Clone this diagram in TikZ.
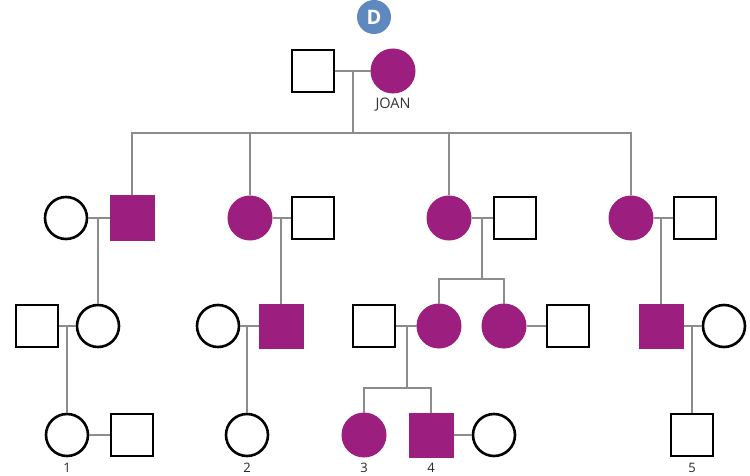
\documentclass[tikz,border=0pt]{standalone}
\usepackage{fontspec}
\setmainfont{Open Sans}
\definecolor{aff}{HTML}{9C1F7F}
\definecolor{badge}{HTML}{5E88BF}
\definecolor{lineg}{HTML}{8C8C8C}
\begin{document}
\begin{tikzpicture}[x=1pt,y=-1pt,
  male/.style={rectangle,draw=black,line width=2.6pt,fill=white,minimum size=42pt,inner sep=0pt},
  female/.style={circle,draw=black,line width=2.6pt,fill=white,minimum size=42pt,inner sep=0pt},
  affm/.style={rectangle,draw=aff,fill=aff,line width=1pt,minimum size=44pt,inner sep=0pt},
  afff/.style={circle,draw=aff,fill=aff,line width=1pt,minimum size=44pt,inner sep=0pt},
  rel/.style={draw=lineg,line width=1.6pt},
  lbl/.style={font=\fontsize{13}{15}\selectfont,text=black!85}]
\useasboundingbox (0,0) rectangle (750,476);
% badge
\node[circle,fill=badge,minimum size=34pt,inner sep=0pt,text=white,font=\bfseries\fontsize{20}{20}\selectfont] (badgeD) at (374,17) {D};
% generation I
\node[male] (gf) at (313,71) {};
\node[afff] (joan) at (393,71) {};
\node[font=\fontsize{14.5}{16}\selectfont,text=black!80] (joanlbl) at (393,105) {JOAN};
% generation II
\node[female] (a1) at (66,218) {};
\node[affm] (a2) at (132,218) {};
\node[afff] (b1) at (250,218) {};
\node[male] (b2) at (313,218) {};
\node[afff] (c1) at (449,218) {};
\node[male] (c2) at (515,218) {};
\node[afff] (d1) at (631,218) {};
\node[male] (d2) at (695,218) {};
% generation III
\node[male] (e1) at (37,326) {};
\node[female] (e2) at (98,326) {};
\node[female] (f1) at (218,326) {};
\node[affm] (f2) at (281,326) {};
\node[male] (g1) at (374,326) {};
\node[afff] (g2) at (439,326) {};
\node[afff] (h1) at (504,326) {};
\node[male] (h2) at (568,326) {};
\node[affm] (i1) at (661,326) {};
\node[female] (i2) at (724,326) {};
% generation IV
\node[female] (j1) at (67,435) {};
\node[male] (j2) at (132,435) {};
\node[female] (k1) at (247,435) {};
\node[afff] (l1) at (364,435) {};
\node[affm] (l2) at (431,435) {};
\node[female] (l3) at (494,435) {};
\node[male] (m1) at (692,435) {};
% labels
\node[lbl] (n1) at (67,468) {1};
\node[lbl] (n2) at (247,468) {2};
\node[lbl] (n3) at (364,468) {3};
\node[lbl] (n4) at (431,468) {4};
\node[lbl] (n5) at (692,468) {5};
% marriage points
\coordinate (mI) at (353,71);
\coordinate (sI) at (353,133);
\coordinate (ma) at (98,218);
\coordinate (mb) at (281,218);
\coordinate (mc) at (482,218);
\coordinate (sc) at (482,279);
\coordinate (md) at (661,218);
\coordinate (me) at (67,326);
\coordinate (mf) at (247,326);
\coordinate (mg) at (407,326);
\coordinate (sg) at (407,388);
\coordinate (mi) at (692,326);
% marriage lines
\begin{scope}[rel]
\draw (gf.east) -- (joan.west);
\draw (a1.east) -- (a2.west);
\draw (b1.east) -- (b2.west);
\draw (c1.east) -- (c2.west);
\draw (d1.east) -- (d2.west);
\draw (e1.east) -- (e2.west);
\draw (f1.east) -- (f2.west);
\draw (g1.east) -- (g2.west);
\draw (h1.east) -- (h2.west);
\draw (i1.east) -- (i2.west);
\draw (j1.east) -- (j2.west);
\draw (l2.east) -- (l3.west);
% descent lines
\draw (mI) -- (sI);
\draw (a2.north) -- (a2.north |- sI) -- (d1.north |- sI) -- (d1.north);
\draw (b1.north) -- (b1.north |- sI);
\draw (c1.north) -- (c1.north |- sI);
\draw (ma) -- (e2.north);
\draw (mb) -- (f2.north);
\draw (mc) -- (sc);
\draw (g2.north) -- (g2.north |- sc) -- (h1.north |- sc) -- (h1.north);
\draw (md) -- (i1.north);
\draw (me) -- (j1.north);
\draw (mf) -- (k1.north);
\draw (mg) -- (sg);
\draw (l1.north) -- (l1.north |- sg) -- (l2.north |- sg) -- (l2.north);
\draw (mi) -- (m1.north);
\end{scope}
\end{tikzpicture}
\end{document}
